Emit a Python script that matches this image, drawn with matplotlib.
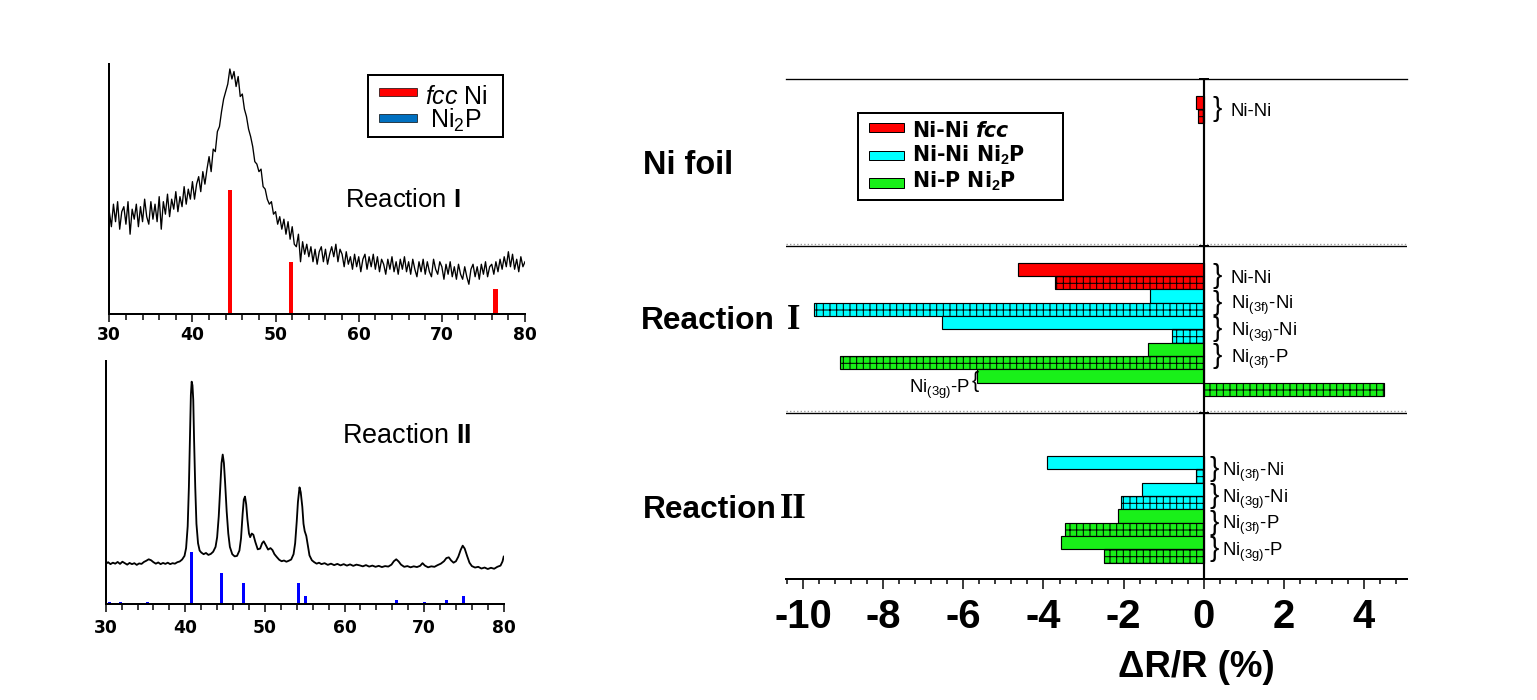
import numpy as np
import matplotlib
matplotlib.use("Agg")
import matplotlib.pyplot as plt
from matplotlib.patches import Rectangle

W, H, DPI = 1537, 700, 120

plt.rcParams['font.family'] = ['Liberation Sans', 'DejaVu Sans']
plt.rcParams['mathtext.fontset'] = 'custom'
plt.rcParams['mathtext.rm'] = 'Liberation Sans'
plt.rcParams['mathtext.it'] = 'Liberation Sans:italic'
plt.rcParams['mathtext.bf'] = 'Liberation Sans:bold'
plt.rcParams['axes.unicode_minus'] = False
plt.rcParams['hatch.linewidth'] = 0.6

# ---- XRD, reaction I (2theta 30..80, step 0.25) ----
xrd1_int = [
    41, 35, 44, 37, 45, 34, 41, 43,
    36, 45, 32, 42, 38, 44, 35, 43,
    37, 46, 39, 36, 45, 38, 44, 37,
    47, 34, 45, 40, 48, 39, 46, 42,
    49, 41, 47, 43, 51, 44, 50, 46,
    53, 46, 52, 55, 49, 57, 52, 58,
    63, 57, 66, 65, 73, 75, 81, 86,
    89, 92, 98, 94, 97, 91, 95, 87,
    88, 82, 79, 74, 71, 67, 61, 60,
    57, 58, 51, 50, 46, 44, 45, 40,
    41, 36, 39, 34, 38, 32, 37, 30,
    35, 28, 27, 32, 21, 29, 24, 28,
    23, 27, 21, 26, 20, 25, 27, 21,
    26, 20, 24, 27, 23, 28, 21, 26,
    24, 19, 25, 20, 23, 18, 24, 19,
    23, 17, 22, 24, 18, 23, 19, 24,
    18, 23, 17, 22, 20, 16, 22, 18,
    23, 17, 21, 16, 22, 18, 23, 17,
    21, 16, 22, 18, 15, 21, 17, 22,
    16, 21, 17, 15, 22, 18, 16, 21,
    19, 14, 20, 16, 21, 15, 19, 14,
    20, 16, 14, 19, 15, 12, 18, 20,
    15, 19, 14, 20, 16, 21, 15, 19,
    20, 16, 21, 17, 22, 18, 23, 19,
    25, 19, 24, 18, 22, 17, 23, 19,
    21,
]
xrd1_tt = np.linspace(30, 80, len(xrd1_int))
fcc_pos = [44.5, 51.85, 76.45]
fcc_int = [49.7, 20.9, 10.0]

# ---- XRD, reaction II ----
xrd2_tt = [30.0, 30.3, 30.6, 30.9, 31.2, 31.5, 31.8, 32.1, 32.4, 32.7, 33.0, 33.3,
           33.6, 33.9, 34.2, 34.5, 34.8, 35.1, 35.4, 35.7, 36.0, 36.3, 36.6, 36.9,
           37.2, 37.5, 37.8, 38.1, 38.4, 38.7, 39.0, 39.3, 39.6, 39.9, 40.1, 40.3,
           40.45, 40.6, 40.7, 40.8, 40.9, 41.0, 41.1, 41.25, 41.4, 41.6, 41.8, 42.0,
           42.3, 42.6, 42.9, 43.2, 43.5, 43.8, 44.0, 44.2, 44.4, 44.55, 44.7, 44.85,
           45.0, 45.2, 45.4, 45.6, 45.9, 46.2, 46.5, 46.8, 47.0, 47.2, 47.35, 47.5,
           47.65, 47.8, 48.0, 48.15, 48.35, 48.55, 48.8, 49.1, 49.4, 49.65, 49.85, 50.1,
           50.4, 50.7, 50.95, 51.2, 51.5, 51.8, 52.1, 52.4, 52.7, 53.0, 53.3, 53.6,
           53.8, 54.0, 54.15, 54.35, 54.5, 54.7, 54.85, 55.0, 55.2, 55.4, 55.6, 55.9,
           56.2, 56.5, 56.8, 57.1, 57.5, 57.9, 58.3, 58.7, 59.1, 59.5, 59.9, 60.3,
           60.7, 61.1, 61.5, 61.9, 62.3, 62.7, 63.1, 63.5, 63.9, 64.3, 64.7, 65.1,
           65.5, 65.9, 66.2, 66.5, 66.8, 67.1, 67.5, 67.9, 68.3, 68.7, 69.1, 69.5,
           69.8, 70.1, 70.5, 70.9, 71.3, 71.7, 72.1, 72.5, 72.8, 73.1, 73.4, 73.7,
           74.0, 74.3, 74.6, 74.85, 75.1, 75.4, 75.7, 76.0, 76.4, 76.8, 77.2, 77.6,
           78.0, 78.4, 78.8, 79.2, 79.6, 79.85, 80.0]
xrd2_int = [16.5, 17.2, 16.4, 17.0, 16.6, 17.3, 16.5, 17.4, 16.8, 16.2, 16.9, 16.4,
            16.8, 16.1, 16.7, 16.5, 17.3, 17.8, 18.4, 18.0, 17.2, 16.6, 17.1, 16.4,
            16.9, 16.5, 17.0, 16.4, 16.8, 16.6, 17.2, 17.5, 18.3, 19.8, 23, 32,
            48, 72, 86, 91.5, 90, 84, 68, 48, 33, 25, 22, 21.2,
            20.5, 21.0, 20.2, 20.6, 21.5, 23.5, 27.5, 36, 49, 58, 61.5, 58,
            50, 38, 29, 23.5, 20.5, 19.6, 19.8, 22, 27, 37, 43, 44.2,
            41, 35, 29, 27.5, 29, 28.5, 25.5, 22.5, 22.8, 25, 25.8, 24.3,
            22.4, 23.0, 22.2, 20.5, 19.3, 18.2, 17.6, 17.9, 17.4, 17.8, 18.3, 20.5,
            25, 34, 42, 48, 46, 40, 33, 30, 28, 24, 20, 18,
            17.2, 16.6, 17.0, 16.4, 16.8, 16.1, 16.6, 16.0, 16.5, 15.9, 16.4, 15.8,
            16.3, 15.7, 16.2, 15.9, 15.5, 16.0, 15.4, 15.8, 15.3, 15.7, 15.2, 15.6,
            15.4, 16.2, 17.6, 18.4, 17.5, 16.2, 15.3, 15.6, 15.1, 15.5, 15.2, 15.7,
            16.8, 15.8, 15.1, 15.5, 15.3, 16.0, 16.6, 17.6, 18.9, 19.2, 17.9, 17.0,
            17.6, 19.5, 22.3, 24.0, 22.8, 19.8, 17.0, 15.6, 15.0, 15.3, 14.6, 15.0,
            14.4, 14.9, 14.5, 15.3, 15.8, 17.5, 19.5]
ni2p_pos = [30.5, 31.9, 35.3, 40.75, 44.6, 47.35, 54.2, 55.1, 66.5, 70.0, 72.8, 75.0]
ni2p_int = [0.8, 0.8, 0.8, 21.6, 12.9, 8.8, 8.5, 3.3, 1.6, 0.8, 1.6, 3.3]

# ---- EXAFS dR/R (%) ; slot order: NiNi fcc (solid, hatched), NiNi Ni2P 3f, 3g, NiP 3f, 3g ----
slot_colors = ['#ff0000', '#ff0000', '#00ffff', '#00ffff', '#00ffff', '#00ffff',
               '#19f019', '#19f019', '#19f019', '#19f019']
foil_slots = [0, 1]
foil_vals = [-0.2, -0.15]
r1_slots = [0, 1, 2, 3, 4, 5, 6, 7, 8, 9]
r1_vals = [-4.64, -3.72, -1.33, -9.74, -6.53, -0.8, -1.4, -9.07, -5.67, 4.51]
r2_slots = [2, 3, 4, 5, 6, 7, 8, 9]
r2_vals = [-3.9, -0.2, -1.54, -2.07, -2.13, -3.47, -3.57, -2.5]
foil_pairs = [(0, 'Ni-Ni')]
r1_pairs = [(0, 'Ni-Ni'), (2, r'Ni$_{\mathrm{(3f)}}$-Ni'), (4, r'Ni$_{\mathrm{(3g)}}$-Ni'),
            (6, r'Ni$_{\mathrm{(3f)}}$-P')]
r1_left_pair = (8, r'Ni$_{\mathrm{(3g)}}$-P')
r2_pairs = [(2, r'Ni$_{\mathrm{(3f)}}$-Ni'), (4, r'Ni$_{\mathrm{(3g)}}$-Ni'),
            (6, r'Ni$_{\mathrm{(3f)}}$-P'), (8, r'Ni$_{\mathrm{(3g)}}$-P')]
section_names = ['Ni foil', 'Reaction', 'Reaction']
section_roman = ['', 'I', 'II']
legend_labels = [('Ni-Ni', 'fcc'), (r'Ni-Ni Ni$_{\mathbf{2}}$P', ''), (r'Ni-P Ni$_{\mathbf{2}}$P', '')]

fig = plt.figure(figsize=(W / DPI, H / DPI), dpi=DPI)


def fx(x):
    return x / W


def fy(y):
    return 1 - y / H


def xrd_axes(box, ticklen, pad):
    ax = fig.add_axes([fx(box[0]), fy(box[3]), (box[2] - box[0]) / W, (box[3] - box[1]) / H])
    for s in ['top', 'right']:
        ax.spines[s].set_visible(False)
    for s in ['left', 'bottom']:
        ax.spines[s].set_linewidth(1.2)
    ax.set_xlim(30, 80)
    ax.set_ylim(0, 100)
    ax.set_xticks(np.arange(30, 81, 10))
    ax.set_xticks(np.arange(30, 81, 2), minor=True)
    ax.set_yticks([])
    ax.tick_params(axis='x', which='major', direction='out', length=ticklen, width=0.9, pad=pad)
    ax.tick_params(axis='x', which='minor', direction='out', length=ticklen - 0.8, width=0.9)
    for lb in ax.get_xticklabels():
        lb.set_fontfamily('DejaVu Sans')
        lb.set_fontweight('bold')
        lb.set_fontsize(10.3)
    return ax


# top XRD
ax1 = xrd_axes((109.3, 64, 525, 314.3), 4.5, 2.5)
ax1.plot(xrd1_tt, xrd1_int, color='k', lw=0.8)
ax1.bar(fcc_pos, fcc_int, width=0.5, color='#ff0000', linewidth=0)
fig.text(fx(345), fy(206.7), r'Reaction $\mathbf{I}$', fontsize=15.4, va='baseline')

# bottom XRD
ax2 = xrd_axes((105.7, 361, 503.7, 604), 4.5, 4.5)
ax2.plot(xrd2_tt, xrd2_int, color='k', lw=1.1)
ax2.bar(ni2p_pos, ni2p_int, width=0.38, color='#0000ff', linewidth=0)
fig.text(fx(341.7), fy(442.7), r'Reaction $\mathbf{II}$', fontsize=16.2, va='baseline')

# XRD legend
fig.add_artist(Rectangle((fx(367.7), fy(137.3)), (503.3 - 367.7) / W, (137.3 - 75) / H,
                         fill=False, lw=1.2, ec='k', transform=fig.transFigure))
for (y0, y1), col in zip([(88.3, 96), (114.3, 121.7)], ['#ff0000', '#0070c0']):
    fig.add_artist(Rectangle((fx(379.3), fy(y1)), (416.7 - 379.3) / W, (y1 - y0) / H,
                             fc=col, ec='k', lw=0.4, transform=fig.transFigure))
fig.text(fx(425), fy(104), r'$\mathit{fcc}$ Ni', fontsize=15, va='baseline')
fig.text(fx(430), fy(128.3), r'Ni$_2$P', fontsize=15, va='baseline')

# ---- right panel ----
SEC, PAD = 12.5, 1.25
ax = fig.add_axes([fx(786), fy(579.3), 620.7 / W, 500 / H])
ax.set_xlim(-10.43, 5.07)
ax.set_ylim(3 * SEC, 0)
for s in ['left', 'right']:
    ax.spines[s].set_visible(False)
ax.spines['top'].set_linewidth(0.8)
ax.spines['bottom'].set_linewidth(1.2)
ax.set_yticks([])
ax.set_xticks(np.arange(-10, 5, 2))
ax.set_xticks(np.arange(-10.4, 5.1, 0.4), minor=True)
ax.tick_params(axis='x', which='major', direction='out', length=6, width=0.9, pad=5)
ax.tick_params(axis='x', which='minor', direction='out', length=3, width=0.9)
for lb in ax.get_xticklabels():
    lb.set_fontweight('bold')
    lb.set_fontsize(24)

for sec, (slots, vals) in enumerate([(foil_slots, foil_vals), (r1_slots, r1_vals), (r2_slots, r2_vals)]):
    ys = [sec * SEC + PAD + s + 0.5 for s in slots]
    bars = ax.barh(ys, vals, height=1.0,
                   color=[slot_colors[s] for s in slots],
                   edgecolor='k', linewidth=0.7)
    for bar, s in zip(bars, slots):
        if s % 2 == 1:
            bar.set_hatch('+++')

for b in [SEC, 2 * SEC]:
    ax.axhline(b, color='k', lw=0.8)
    ax.axhline(b - 0.15, color='0.6', lw=0.8, ls=':')
ax.axvline(0, color='k', lw=1.3)
ax.plot([0, 0, 0], [0, SEC, 2 * SEC], '_', color='k', ms=6, mew=1.2, clip_on=False)

for sec, pairs, bx, tx in [(0, foil_pairs, 0.35, 0.67), (1, r1_pairs, 0.35, 0.67), (2, r2_pairs, 0.27, 0.45)]:
    for s, lab in pairs:
        yc = sec * SEC + PAD + s + 1.0
        ax.text(bx, yc, '}', fontsize=16.6, ha='center', va='center')
        ax.text(tx, yc + 0.5, lab, fontsize=11.2, ha='left', va='baseline')
s, lab = r1_left_pair
yc = SEC + PAD + s + 1.0
ax.text(-5.84, yc + 0.75, lab, fontsize=11.2, ha='right', va='baseline')
ax.text(-5.7, yc - 0.1, '{', fontsize=13, ha='center', va='center')

fig.text(fx(1196), fy(677), 'ΔR/R (%)', fontsize=22, fontweight='bold', ha='center', va='baseline')

# section labels
fig.text(fx(642.7), fy(174), section_names[0], fontsize=19.5, fontweight='bold', va='baseline')
fig.text(fx(640.7), fy(329.3), section_names[1], fontsize=19, fontweight='bold', va='baseline')
fig.text(fx(786.7), fy(329.3), section_roman[1], fontsize=20.8, fontweight='bold',
         family='Liberation Serif', va='baseline')
fig.text(fx(642.7), fy(518.3), section_names[2], fontsize=19, fontweight='bold', va='baseline')
fig.text(fx(780), fy(518.3), section_roman[2], fontsize=20.8, fontweight='bold',
         family='Liberation Serif', va='baseline')

# right legend
fig.add_artist(Rectangle((fx(858.3), fy(200)), (1062.7 - 858.3) / W, (200 - 113.3) / H,
                         fill=False, lw=1.2, ec='k', transform=fig.transFigure))
renderer = fig.canvas.get_renderer()
rows = [((123.3, 132.3), 136.7, '#ff0000'), ((150.7, 160), 162, '#00ffff'), ((178.3, 188.3), 187.5, '#19f019')]
for ((y0, y1), base, col), (lab, ital) in zip(rows, legend_labels):
    fig.add_artist(Rectangle((fx(869.3), fy(y1)), 35 / W, (y1 - y0) / H,
                             fc=col, ec='k', lw=0.6, transform=fig.transFigure))
    t = fig.text(fx(911.7), fy(base), lab, fontsize=12.3, fontweight='bold',
                 family='DejaVu Sans', va='baseline')
    if ital:
        wpx = t.get_window_extent(renderer).width
        fig.text(fx(911.7 + wpx + 7), fy(base), ital, fontsize=12.3, fontweight='bold',
                 style='italic', family='DejaVu Sans', va='baseline')

fig.savefig('out.png', dpi=DPI)
